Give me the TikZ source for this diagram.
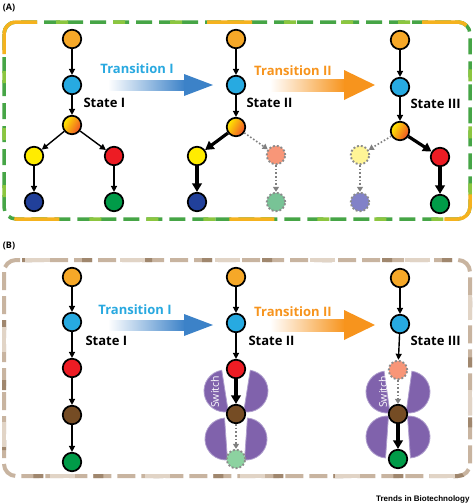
\documentclass[tikz,border=0pt]{standalone}
\usepackage{fontspec}
\setsansfont{Open Sans}
\newfontfamily\credfont{Liberation Sans}
\usetikzlibrary{arrows.meta,calc}
\definecolor{cOr}{RGB}{246,168,40}
\definecolor{cBl}{RGB}{39,170,225}
\definecolor{cYe}{RGB}{255,236,0}
\definecolor{cRe}{RGB}{237,28,36}
\definecolor{cNa}{RGB}{33,64,154}
\definecolor{cGr}{RGB}{0,155,72}
\definecolor{cBr}{RGB}{117,76,36}
\definecolor{gSa}{RGB}{248,150,120}
\definecolor{gGa}{RGB}{120,195,150}
\definecolor{gYe}{RGB}{255,245,150}
\definecolor{gBl}{RGB}{130,130,200}
\definecolor{gGb}{RGB}{140,210,160}
\definecolor{tBl}{RGB}{41,169,224}
\definecolor{aBl}{RGB}{60,130,200}
\definecolor{tOr}{RGB}{247,148,29}
\definecolor{purp}{RGB}{128,98,172}
\definecolor{purpE}{RGB}{175,158,205}
\definecolor{fG1}{RGB}{70,165,70}
\definecolor{fG2}{RGB}{140,198,63}
\definecolor{fY}{RGB}{245,178,30}
\definecolor{fB1}{RGB}{200,180,160}
\definecolor{fB2}{RGB}{160,135,110}
\definecolor{fB3}{RGB}{225,212,198}
\tikzset{
  nd/.style={circle,draw=black,line width=1.7pt,minimum size=18.5pt,inner sep=0pt},
  gradnd/.style={nd,left color=cYe,right color={rgb,255:red,240;green,80;blue,40},shading angle=60},
  ghost/.style={circle,draw=black!45,dotted,line width=1.9pt,minimum size=18.5pt,inner sep=0pt},
  arr/.style={-{Triangle[length=6pt,width=6pt]},line width=1.4pt},
  thk/.style={-{Triangle[length=8.5pt,width=9.5pt]},line width=3.2pt},
  dt/.style={-{Triangle[length=5pt,width=6pt]},draw=black!50,dotted,line width=1.6pt},
  trI/.style={font=\sffamily\bfseries\fontsize{13}{13}\selectfont,text=tBl},
  trII/.style={font=\sffamily\bfseries\fontsize{13}{13}\selectfont,text=tOr},
  stl/.style={font=\sffamily\bfseries\fontsize{13}{13}\selectfont,anchor=west},
  pan/.style={font=\sffamily\bfseries\fontsize{9}{9}\selectfont},
  sw/.style={font=\sffamily\fontsize{10.5}{10.5}\selectfont,text=white,rotate=90,inner sep=0pt},
  halfd/.style={fill=purp,draw=purpE,line width=0.8pt}
}
% transition arrow: x0 x1(tip) xh(head base) y h H color
\newcommand{\tarrow}[7]{%
  \shade[left color=white,right color=#7] (#1,#4-#5) rectangle (#3+1,#4+#5);
  \fill[#7] (#3,#4-#6) -- (#2,#4) -- (#3,#4+#6) -- cycle;}
% half disks: cx cy r delta
\newcommand{\lhalf}[4]{\filldraw[halfd] ($(#1,#2)+({270-#4}:#3)$) arc[start angle={270-#4},delta angle=-180,radius=#3] -- cycle;}
\newcommand{\rhalf}[4]{\filldraw[halfd] ($(#1,#2)+({270+#4}:#3)$) arc[start angle={270+#4},delta angle=180,radius=#3] -- cycle;}
\begin{document}
\begin{tikzpicture}[x=1pt,y=-1pt]
\useasboundingbox (0,0) rectangle (474,504);
\fill[white] (0,0) rectangle (474,504);
% ---------- frames ----------
\draw[fG1,line width=3.5pt,rounded corners=12,dash pattern=on 16pt off 7pt] (4,22) rectangle (470,219);
\draw[fG2,line width=3.5pt,rounded corners=12,dash pattern=on 12pt off 45pt,dash phase=20pt] (4,22) rectangle (470,219);
\draw[fY,line width=3.5pt,rounded corners=12,dash pattern=on 45pt off 170pt,dash phase=25pt] (4,22) rectangle (470,219);
\draw[fB1,line width=4pt,rounded corners=12,dash pattern=on 18pt off 6pt] (4,260) rectangle (470,476);
\draw[fB2,line width=4pt,rounded corners=12,dash pattern=on 10pt off 50pt,dash phase=12pt] (4,260) rectangle (470,476);
\draw[fB3,line width=4pt,rounded corners=12,dash pattern=on 25pt off 70pt,dash phase=40pt] (4,260) rectangle (470,476);
\node[pan] (pA) at (9,8) {(A)};
\node[pan] (pB) at (9,246) {(B)};
% ---------- Panel A ----------
\node[nd,fill=cOr] (a1) at (72,39) {};
\node[nd,fill=cBl] (a2) at (72,85) {};
\node[gradnd] (a3) at (72,125) {};
\node[nd,fill=cYe] (a4) at (34,156) {};
\node[nd,fill=cRe] (a5) at (114,156) {};
\node[nd,fill=cNa] (a6) at (34,202) {};
\node[nd,fill=cGr] (a7) at (114,202) {};
\draw[arr] (a1) -- (a2);
\draw[arr] (a2) -- (a3);
\draw[arr] (a3) -- (a4);
\draw[arr] (a3) -- (a5);
\draw[arr] (a4) -- (a6);
\draw[arr] (a5) -- (a7);
\node[stl] (sa1) at (80,103) {State I};
\node[trI] (ta1) at (137,69) {Transition I};
\tarrow{108}{213}{184}{85}{5}{11}{aBl}
%
\node[nd,fill=cOr] (b1) at (236,39) {};
\node[nd,fill=cBl] (b2) at (236,85) {};
\node[gradnd] (b3) at (236,127) {};
\node[nd,fill=cYe] (b4) at (197,156) {};
\node[ghost,fill=gSa] (b5) at (276,155) {};
\node[nd,fill=cNa] (b6) at (197,202) {};
\node[ghost,fill=gGa] (b7) at (276,202) {};
\draw[arr] (b1) -- (b2);
\draw[arr] (b2) -- (b3);
\draw[thk] (b3) -- (b4);
\draw[thk] (b4) -- (b6);
\draw[dt] (b3) -- (b5);
\draw[dt] (b5) -- (b7);
\node[stl] (sa2) at (243,103) {State II};
\node[trII] (ta2) at (293,71) {Transition II};
\tarrow{270}{375}{344}{85}{6}{15}{tOr}
%
\node[nd,fill=cOr] (c1) at (400,40) {};
\node[nd,fill=cBl] (c2) at (400,87) {};
\node[gradnd] (c3) at (400,131) {};
\node[ghost,fill=gYe] (c4) at (360,155) {};
\node[nd,fill=cRe] (c5) at (440,157) {};
\node[ghost,fill=gBl] (c6) at (360,202) {};
\node[nd,fill=cGr] (c7) at (440,204) {};
\draw[arr] (c1) -- (c2);
\draw[arr] (c2) -- (c3);
\draw[dt] (c3) -- (c4);
\draw[dt] (c4) -- (c6);
\draw[thk] (c3) -- (c5);
\draw[thk] (c5) -- (c7);
\node[stl] (sa3) at (407,104) {State III};
% ---------- Panel B ----------
\node[nd,fill=cOr] (d1) at (72,277) {};
\node[nd,fill=cBl] (d2) at (72,322) {};
\node[nd,fill=cRe] (d3) at (72,368) {};
\node[nd,fill=cBr] (d4) at (72,415) {};
\node[nd,fill=cGr] (d5) at (72,462) {};
\draw[arr] (d1) -- (d2);
\draw[arr] (d2) -- (d3);
\draw[arr] (d3) -- (d4);
\draw[arr] (d4) -- (d5);
\node[stl] (sb1) at (82,341) {State I};
\node[trI] (tb1) at (135,310) {Transition I};
\tarrow{108}{213}{184}{325}{5}{11}{aBl}
% switches state II
\lhalf{225}{391}{21}{9}
\rhalf{247}{391}{21}{9}
\lhalf{226}{439}{21}{4}
\rhalf{246}{439}{21}{4}
\node[sw] (sw1) at (215,392) {Switch};
\node[nd,fill=cOr] (e1) at (236,277) {};
\node[nd,fill=cBl] (e2) at (236,323) {};
\node[nd,fill=cRe] (e3) at (236,369) {};
\node[nd,fill=cBr] (e4) at (236,414) {};
\node[ghost,fill=gGb] (e5) at (236,459) {};
\draw[arr] (e1) -- (e2);
\draw[arr] (e2) -- (e3);
\draw[thk] (e3) -- (e4);
\draw[dt] (e4) -- (e5);
\node[stl] (sb2) at (245,341) {State II};
\node[trII] (tb2) at (293,312) {Transition II};
\tarrow{270}{375}{344}{325}{6}{15}{tOr}
% switches state III
\lhalf{387}{392}{21}{8}
\rhalf{409}{392}{21}{8}
\lhalf{387}{437}{21}{-4}
\rhalf{409}{437}{21}{-4}
\node[sw] (sw2) at (383,392) {Switch};
\node[nd,fill=cOr] (f1) at (400,278) {};
\node[nd,fill=cBl] (f2) at (400,324) {};
\node[ghost,fill=gSa] (f3) at (398,370) {};
\node[nd,fill=cBr] (f4) at (398,414) {};
\node[nd,fill=cGr] (f5) at (398,459) {};
\draw[arr] (f1) -- (f2);
\draw[arr] (f2) -- (f3);
\draw[dt] (f3) -- (f4);
\draw[thk] (f4) -- (f5);
\node[stl] (sb3) at (407,341) {State III};
\node[font=\credfont\bfseries\fontsize{8}{8}\selectfont,anchor=east] (cr) at (473,499) {Trends in Biotechnology};
\end{tikzpicture}
\end{document}
